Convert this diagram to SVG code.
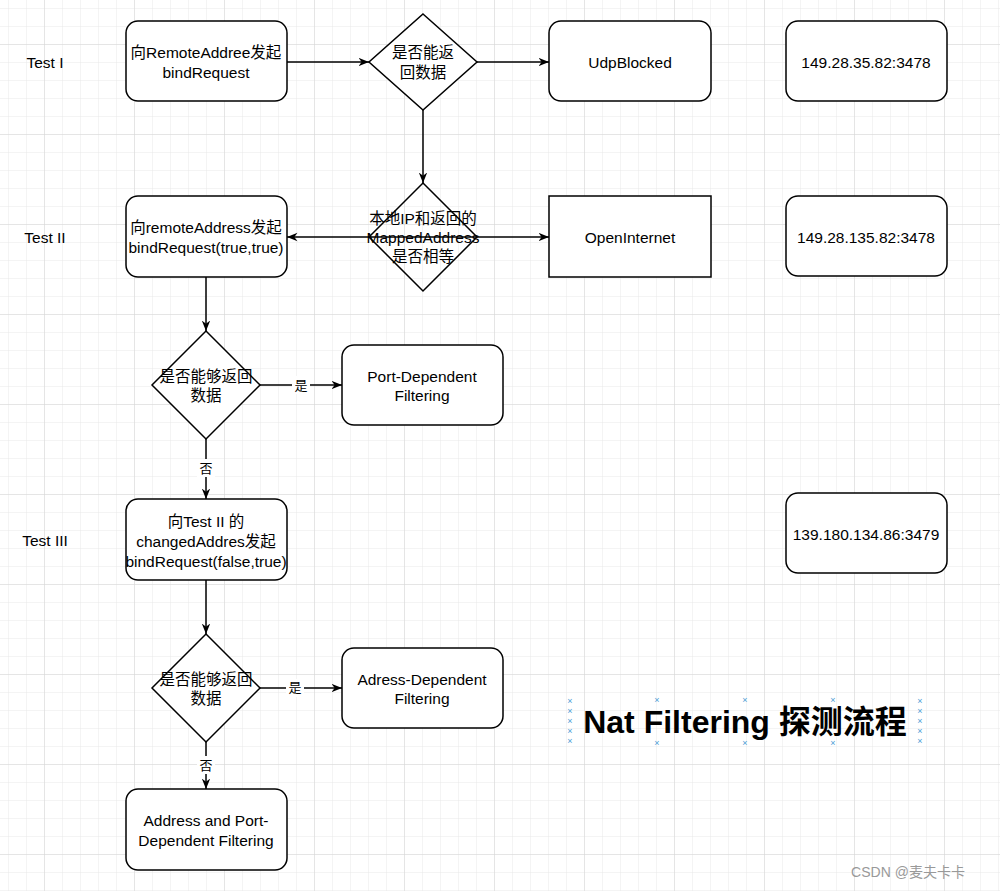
<svg xmlns="http://www.w3.org/2000/svg" width="1000" height="891" viewBox="0 0 1000 891">
<defs>
<pattern id="g" width="18" height="18" patternUnits="userSpaceOnUse" x="9" y="9"><path d="M18 0V18H0" fill="none" stroke="#e8e8e8" stroke-width="1"/></pattern>
<pattern id="G" width="90" height="90" patternUnits="userSpaceOnUse" x="45" y="45"><path d="M90 0V90H0" fill="none" stroke="#d6d6d6" stroke-width="1"/></pattern>
<marker id="a" viewBox="0 0 10 10" refX="10" refY="5" markerWidth="7" markerHeight="7" orient="auto-start-reverse"><path d="M0 1L10 5L0 9L3 5Z" fill="#000"/></marker>
</defs>
<style>
.n{fill:#fff;stroke:#000;stroke-width:1.5}
text{font-family:"Liberation Sans","Noto Sans CJK SC",sans-serif;font-size:15.5px;fill:#000;text-anchor:middle;dominant-baseline:central}
.c line{stroke:#000;stroke-width:1.5;marker-end:url(#a)}
text.x{fill:#4a9ed6;font-size:9px}
</style>
<rect width="1000" height="891" fill="#fff"/>
<rect width="1000" height="891" fill="url(#g)"/>
<rect width="1000" height="891" fill="url(#G)"/>
<g class="c">
<line x1="287" y1="62" x2="369" y2="62"/>
<line x1="477" y1="62" x2="549" y2="62"/>
<line x1="423" y1="110" x2="423" y2="183"/>
<line x1="287" y1="237" x2="549" y2="237" style="marker-start:url(#a)"/>
<line x1="206" y1="277" x2="206" y2="331"/>
<line x1="260" y1="385" x2="342" y2="385"/>
<line x1="206" y1="439" x2="206" y2="499"/>
<line x1="206" y1="580" x2="206" y2="634"/>
<line x1="260" y1="688" x2="342" y2="688"/>
<line x1="206" y1="742" x2="206" y2="789"/>
</g>
<g>
<rect x="292" y="376" width="18" height="18" fill="#fff"/><text x="301" y="385" style="font-size:13px">是</text>
<rect x="197" y="459" width="18" height="18" fill="#fff"/><text x="206" y="468" style="font-size:13px">否</text>
<rect x="286" y="679" width="18" height="18" fill="#fff"/><text x="295" y="687" style="font-size:13px">是</text>
<rect x="197" y="756" width="18" height="18" fill="#fff"/><text x="206" y="765" style="font-size:13px">否</text>
</g>
<g id="l1"><text x="45" y="62">Test I</text></g>
<g id="l2"><text x="45" y="237">Test II</text></g>
<g id="l3"><text x="45" y="540">Test III</text></g>
<g id="b1"><rect class="n" x="126" y="21" width="161" height="80" rx="12"/><text x="206" y="52">向RemoteAddree发起</text><text x="206" y="72">bindRequest</text></g>
<g id="d1"><path class="n" d="M423 14L477 62L423 110L369 62Z"/><text x="423" y="52">是否能返</text><text x="423" y="72">回数据</text></g>
<g id="udp"><rect class="n" x="549" y="21" width="162" height="80" rx="12"/><text x="630" y="62">UdpBlocked</text></g>
<g id="ip1"><rect class="n" x="786" y="21" width="161" height="80" rx="12"/><text x="866" y="62">149.28.35.82:3478</text></g>
<g id="b2"><rect class="n" x="126" y="196" width="161" height="81" rx="12"/><text x="206" y="227">向remoteAddress发起</text><text x="206" y="247">bindRequest(true,true)</text></g>
<g id="d2"><path class="n" d="M423 183L477 237L423 291L369 237Z" style="fill:none"/><text x="423" y="218">本地IP和返回的</text><text x="423" y="237">MappedAddress</text><text x="423" y="256">是否相等</text></g>
<g id="oi"><rect class="n" x="549" y="196" width="162" height="81"/><text x="630" y="237">OpenInternet</text></g>
<g id="ip2"><rect class="n" x="786" y="196" width="161" height="80" rx="12"/><text x="866" y="237">149.28.135.82:3478</text></g>
<g id="d3"><path class="n" d="M206 331L260 385L206 439L152 385Z"/><text x="206" y="376">是否能够返回</text><text x="206" y="395">数据</text></g>
<g id="pd"><rect class="n" x="342" y="345" width="161" height="80" rx="12"/><text x="422" y="376">Port-Dependent</text><text x="422" y="395">Filtering</text></g>
<g id="b3"><rect class="n" x="126" y="499" width="161" height="81" rx="12"/><text x="206" y="521">向Test II 的</text><text x="206" y="541">changedAddres发起</text><text x="206" y="561">bindRequest(false,true)</text></g>
<g id="ip3"><rect class="n" x="786" y="493" width="161" height="80" rx="12"/><text x="866" y="534">139.180.134.86:3479</text></g>
<g id="d4"><path class="n" d="M206 634L260 688L206 742L152 688Z"/><text x="206" y="679">是否能够返回</text><text x="206" y="698">数据</text></g>
<g id="ad"><rect class="n" x="342" y="648" width="161" height="80" rx="12"/><text x="422" y="679">Adress-Dependent</text><text x="422" y="698">Filtering</text></g>
<g id="fin"><rect class="n" x="126" y="789" width="161" height="81" rx="12"/><text x="206" y="820">Address and Port-</text><text x="206" y="840">Dependent Filtering</text></g>
<g id="title">
<text x="745" y="722" style="font-size:32px;font-weight:bold">Nat Filtering 探测流程</text>
<text class="x" x="570" y="701">×</text><text class="x" x="570" y="711">×</text><text class="x" x="570" y="721">×</text><text class="x" x="570" y="731">×</text><text class="x" x="570" y="741">×</text>
<text class="x" x="657" y="700">×</text><text class="x" x="657" y="743">×</text>
<text class="x" x="745" y="700">×</text><text class="x" x="745" y="743">×</text>
<text class="x" x="833" y="700">×</text><text class="x" x="833" y="743">×</text>
<text class="x" x="920" y="701">×</text><text class="x" x="920" y="711">×</text><text class="x" x="920" y="721">×</text><text class="x" x="920" y="731">×</text><text class="x" x="920" y="741">×</text>
</g>
<text x="908" y="872" style="font-size:14px;fill:#999">CSDN @麦夫卡卡</text>
</svg>
